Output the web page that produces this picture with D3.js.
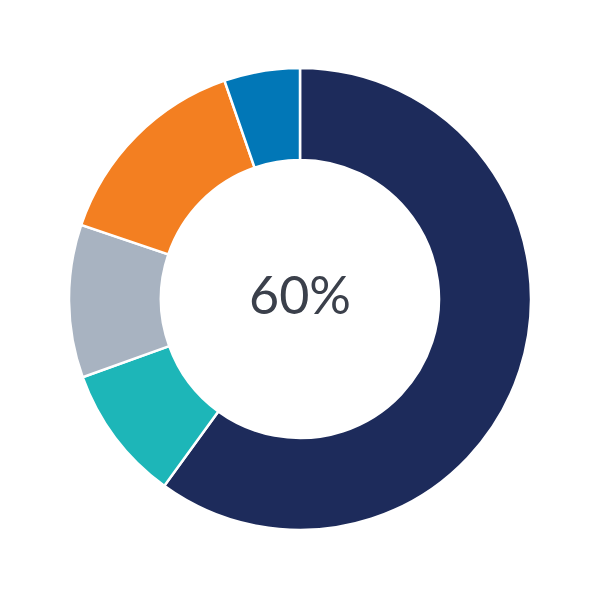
<!DOCTYPE html>
<html><head><meta charset="utf-8">
<script src="https://cdn.jsdelivr.net/npm/d3@7"></script>
<style>html,body{margin:0;padding:0;background:#fff;}</style>
</head><body>
<svg id="chart" width="600" height="599"></svg>
<script>
const categories = ["A", "B", "C", "D", "E"];
const values = [60, 9.5, 10.7, 14.5, 5.3];
const colors = ["#1d2b5b", "#1db6b8", "#a8b3c1", "#f37f21", "#0177b7"];
const centerLabel = "60%";

const svg = d3.select("#chart");
const cx = 300, cy = 299, rOuter = 231, rInner = 139;
const g = svg.append("g").attr("transform", `translate(${cx},${cy})`);
const pie = d3.pie().sort(null).value(d => d.v);
const arc = d3.arc().innerRadius(rInner).outerRadius(rOuter);
const data = categories.map((c, i) => ({c, v: values[i], col: colors[i]}));
g.selectAll("path").data(pie(data)).join("path")
  .attr("d", arc)
  .attr("fill", d => d.data.col)
  .attr("stroke", "#fff")
  .attr("stroke-width", 2.5);
g.append("text").attr("text-anchor", "middle").attr("y", 15)
  .attr("font-family", "Lato, sans-serif").attr("font-weight", 400)
  .attr("font-size", 52).attr("fill", "#3b404b").text(centerLabel);
</script>
</body></html>
